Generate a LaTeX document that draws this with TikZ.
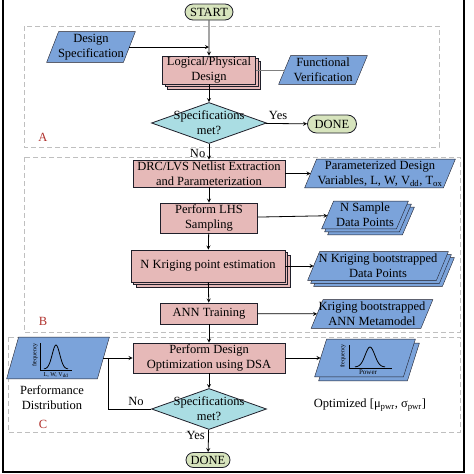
\documentclass[tikz,border=0pt]{standalone}
\usepackage{fontspec}
\setmainfont{Liberation Serif}
\usetikzlibrary{shapes.geometric}
\usetikzlibrary{shapes.misc}
\usetikzlibrary{shadows}
\usetikzlibrary{backgrounds}
\definecolor{procfill}{HTML}{E6B9B8}
\definecolor{datafill}{HTML}{7BA3DA}
\definecolor{decfill}{HTML}{AADDE3}
\definecolor{termfill}{HTML}{D7E4BD}
\definecolor{edgeclr}{HTML}{1F1F2A}
\definecolor{lblred}{HTML}{B0302C}
% slanted data box behind a node, optionally shifted for a stack
\newcommand{\slab}[2][0]{%
  \filldraw[fill=datafill,draw=edgeclr]
    ([shift={(6+#1,#1)}]#2.north west) -- ([shift={(6+#1,#1)}]#2.north east)
    -- ([shift={(-6+#1,#1)}]#2.south east) -- ([shift={(-6+#1,#1)}]#2.south west) -- cycle;}

\begin{document}
\begin{tikzpicture}[x=1pt,y=-1pt,line width=0.8pt,
  font=\fontsize{12.5}{15}\selectfont,
  proc/.style={draw=edgeclr,fill=procfill,align=center,inner sep=0pt},
  data/.style={align=center,inner sep=0pt},
  dec/.style={diamond,aspect=2.9,draw=edgeclr,fill=decfill,align=center,
    inner sep=-6pt,minimum width=115pt,minimum height=41pt},
  term/.style={rounded rectangle,draw=edgeclr,fill=termfill,inner sep=0pt},
  stack/.style={copy shadow={shadow xshift=5pt,shadow yshift=-5pt,draw=edgeclr,fill=#1},
    copy shadow={shadow xshift=2.5pt,shadow yshift=-2.5pt,draw=edgeclr,fill=#1}},
  group/.style={draw=gray!50,dash pattern=on 5pt off 3pt,line width=0.8pt},
  tag/.style={text=lblred},
  tiny/.style={font=\fontsize{6}{6}\selectfont,inner sep=0pt}]
  \useasboundingbox (0,0) rectangle (474,474);
  \draw[line width=1.4pt] (3,0) -- (3,472) -- (464,472) -- (464,0);
  \node[tag] (A) at (43,137) {A};
  \node[tag] (B) at (43,321) {B};
  \node[tag] (C) at (43,424) {C};

  \node[term,minimum width=48pt,minimum height=16pt] (start) at (209,12) {START};
  \node[data,minimum width=76pt,minimum height=30pt] (spec) at (91,47) {Design\\Specification};
  \node[proc,stack=procfill,minimum width=93pt,minimum height=28pt] (lp) at (209,70) {Logical/Physical\\Design};
  \node[data,minimum width=76pt,minimum height=28pt] (fv) at (323,70) {Functional\\Verification};
  \node[dec] (d1) at (209,123) {Specifications\\met?};
  \node[term,minimum width=49pt,minimum height=18pt] (done1) at (332,124) {DONE};

  \node[proc,minimum width=152pt,minimum height=27pt] (drc) at (209,173.5) {DRC/LVS Netlist Extraction\\and Parameterization};
  \node[data,minimum width=138pt,minimum height=28pt] (par) at (380,173.5) {Parameterized Design\\Variables, L, W, V\textsubscript{dd}, T\textsubscript{ox}};
  \node[proc,minimum width=97pt,minimum height=30pt] (lhs) at (209,218) {Perform LHS\\Sampling};
  \node[data,minimum width=74pt,minimum height=27pt] (ns) at (365,215) {N Sample\\Data Points};
  \node[proc,stack=procfill,minimum width=154pt,minimum height=32pt] (kr) at (208,266) {N Kriging point estimation};
  \node[data,minimum width=128pt,minimum height=28pt] (kd) at (378,266) {N Kriging bootstrapped\\Data Points};
  \node[proc,minimum width=97pt,minimum height=21pt] (ann) at (209,313.5) {ANN Training};
  \node[data,minimum width=109pt,minimum height=28pt] (meta) at (372,314) {Kriging bootstrapped\\ANN Metamodel};

  \node[proc,minimum width=152pt,minimum height=30pt] (dsa) at (209,358) {Perform Design\\Optimization using DSA};
  \node[data,minimum width=90pt,minimum height=41pt] (perf) at (58,358) {};
  \node (perfl) at (52,398) [align=center] {Performance\\Distribution};
  \node[data,minimum width=88pt,minimum height=37pt] (opt) at (365,358) {};
  \node (optl) at (370,405) {Optimized [μ\textsubscript{pwr}, σ\textsubscript{pwr}]};
  \node[dec] (d2) at (209,409) {Specifications\\met?};
  \node[term,minimum width=44pt,minimum height=15pt] (done2) at (208,460) {DONE};

  \begin{scope}[on background layer]
    % groups
    \draw[group] (24,26) rectangle (439,147);
    \draw[group] (24,157) rectangle (460,332);
    \draw[group] (8,337) rectangle (460,432);
    \slab{spec} \slab{fv} \slab{par}
    \slab[6]{ns} \slab[3]{ns} \slab{ns}
    \slab[6]{kd} \slab[3]{kd} \slab{kd}
    \slab{meta} \slab{perf}
    \slab[4]{opt} \slab{opt}
  \end{scope}

  % small plots
  \draw (40,343) -- (40,370) -- (72,370);
  \draw plot[domain=-1:1,samples=25] ({56+12*\x},{369-24*exp(-5*\x*\x)});
  \node[tiny,rotate=90] (fq1) at (35,355) {frequency};
  \node[tiny] (ax1) at (56,375) {L, W, V\textsubscript{dd}};
  \draw (349,345) -- (349,368) -- (392,368);
  \draw plot[domain=-1:1,samples=25] ({370+15*\x},{367-20*exp(-5*\x*\x)});
  \node[tiny,rotate=90] (fq2) at (343,356) {frequency};
  \node[tiny,font=\fontsize{7}{7}\selectfont] (ax2) at (368,372) {Power};

  \draw[-stealth] (spec) -- (spec -| start);
  \draw[gray] (lp) -- (fv);
  \path[-stealth] (start) edge (lp)
    (lp) edge (d1)
    (d1) edge node[above,pos=0.3] {Yes} (done1)
    (d1) edge node[left,pos=0.6] {No} (drc)
    (drc) edge (par)
    (drc) edge (lhs)
    (lhs) edge (ns)
    (lhs) edge (kr)
    (kr) edge (kd)
    (kr) edge (ann)
    (ann) edge (meta)
    (ann) edge (dsa)
    (perf) edge (dsa)
    (dsa) edge (opt)
    (dsa) edge (d2)
    (d2) edge node[left,pos=0.25] {Yes} (done2);
  \coordinate (m) at (108,358);
  \draw (d2) -- node[above,pos=0.35] {No} (d2 -| m) -- (m);
\end{tikzpicture}
\end{document}
